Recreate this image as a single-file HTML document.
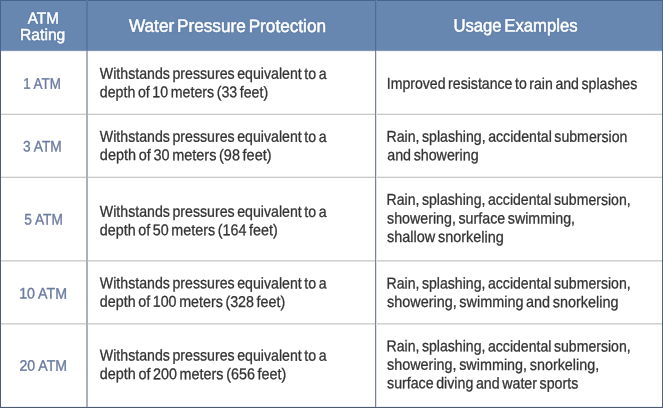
<!DOCTYPE html>
<html lang="en"><head><meta charset="utf-8"><title>ATM Rating</title>
<style>
html,body{margin:0;padding:0;background:#fff;}
body{width:663px;height:408px;overflow:hidden;position:relative;font-family:"Liberation Sans",sans-serif;}
#wrap{position:absolute;left:0;top:0;width:663px;height:408px;overflow:hidden;background:#fff;}
table{position:absolute;left:0;top:0;width:663px;height:408px;border-collapse:collapse;table-layout:fixed;border-spacing:0;}
th,td{padding:0;margin:0;border:0;font-weight:400;}
thead tr{height:50px;}
th{background:#6787b1;}
.t{position:absolute;white-space:pre;line-height:20px;transform-origin:0 0;display:block;}
.h1{font-size:15.9px;font-weight:400;color:#ffffff;-webkit-text-stroke:0.5px #ffffff;}
.h2{font-size:17.9px;font-weight:400;color:#ffffff;-webkit-text-stroke:0.55px #ffffff;word-spacing:-2.0px;}
.a{font-size:15.3px;font-weight:400;color:#6b7ba1;-webkit-text-stroke:0.35px #6b7ba1;}
.b{font-size:15.7px;font-weight:400;color:#333333;-webkit-text-stroke:0.28px #333333;word-spacing:-1.5px;}
.h1,.h2{text-shadow:0 0 2px rgba(50,78,125,0.5);}
.ln{position:absolute;display:block;}
</style></head>
<body><div id="wrap">
<table><colgroup><col style="width:87px"><col style="width:289px"><col style="width:287px"></colgroup>
<thead><tr><th><span class="t h1" style="left:27px;top:8px;transform:matrix(0.9581,0.0008,0,1,0.84,0.40)">ATM</span><span class="t h1" style="left:20px;top:25px;transform:matrix(0.9844,0.0008,0,1,0.06,0.00)">Rating</span></th><th><span class="t h2" style="left:128px;top:15px;transform:matrix(0.9608,0.0008,0,1,0.96,0.80)">Water Pressure Protection</span></th><th><span class="t h2" style="left:453px;top:15px;transform:matrix(0.9312,0.0008,0,1,0.42,0.50)">Usage Examples</span></th></tr></thead>
<tbody>
<tr style="height:64px"><td><span class="t a" style="left:23px;top:73px;transform:matrix(0.8749,0.0008,0,1,0.18,0.75)">1 ATM</span></td><td><span class="t b" style="left:99px;top:63px;transform:matrix(0.9027,0.0008,0,1,0.83,0.70)">Withstands pressures equivalent to a</span><span class="t b" style="left:99px;top:82px;transform:matrix(0.9047,0.0008,0,1,0.83,0.25)">depth of 10 meters (33 feet)</span></td><td><span class="t b" style="left:386px;top:73px;transform:matrix(0.8994,0.0008,0,1,0.73,0.75)">Improved resistance to rain and splashes</span></td></tr>
<tr style="height:63px"><td><span class="t a" style="left:23px;top:136px;transform:matrix(0.8985,0.0008,0,1,0.06,0.60)">3 ATM</span></td><td><span class="t b" style="left:99px;top:126px;transform:matrix(0.9027,0.0008,0,1,0.83,0.70)">Withstands pressures equivalent to a</span><span class="t b" style="left:99px;top:145px;transform:matrix(0.9229,0.0008,0,1,0.83,0.10)">depth of 30 meters (98 feet)</span></td><td><span class="t b" style="left:386px;top:126px;transform:matrix(0.9000,0.0008,0,1,0.53,0.70)">Rain, splashing, accidental submersion</span><span class="t b" style="left:387px;top:145px;transform:matrix(0.9092,0.0008,0,1,0.23,0.25)">and showering</span></td></tr>
<tr style="height:84px"><td><span class="t a" style="left:24px;top:209px;transform:matrix(0.8962,0.0008,0,1,0.26,0.40)">5 ATM</span></td><td><span class="t b" style="left:99px;top:201px;transform:matrix(0.9027,0.0008,0,1,0.83,0.70)">Withstands pressures equivalent to a</span><span class="t b" style="left:99px;top:220px;transform:matrix(0.9129,0.0008,0,1,0.83,0.20)">depth of 50 meters (164 feet)</span></td><td><span class="t b" style="left:386px;top:189px;transform:matrix(0.8979,0.0008,0,1,0.53,0.70)">Rain, splashing, accidental submersion,</span><span class="t b" style="left:387px;top:208px;transform:matrix(0.9076,0.0008,0,1,0.03,0.45)">showering, surface swimming,</span><span class="t b" style="left:387px;top:227px;transform:matrix(0.9221,0.0008,0,1,0.03,0.05)">shallow snorkeling</span></td></tr>
<tr style="height:63px"><td><span class="t a" style="left:19px;top:283px;transform:matrix(0.9289,0.0008,0,1,0.13,0.60)">10 ATM</span></td><td><span class="t b" style="left:99px;top:273px;transform:matrix(0.9027,0.0008,0,1,0.83,0.25)">Withstands pressures equivalent to a</span><span class="t b" style="left:99px;top:291px;transform:matrix(0.9106,0.0008,0,1,0.83,0.80)">depth of 100 meters (328 feet)</span></td><td><span class="t b" style="left:386px;top:273px;transform:matrix(0.8979,0.0008,0,1,0.53,0.40)">Rain, splashing, accidental submersion,</span><span class="t b" style="left:387px;top:292px;transform:matrix(0.9188,0.0008,0,1,0.03,0.00)">showering, swimming and snorkeling</span></td></tr>
<tr style="height:84px"><td><span class="t a" style="left:19px;top:355px;transform:matrix(0.9226,0.0008,0,1,0.46,0.75)">20 ATM</span></td><td><span class="t b" style="left:99px;top:345px;transform:matrix(0.9027,0.0008,0,1,0.83,0.50)">Withstands pressures equivalent to a</span><span class="t b" style="left:99px;top:364px;transform:matrix(0.9160,0.0008,0,1,0.83,0.10)">depth of 200 meters (656 feet)</span></td><td><span class="t b" style="left:386px;top:336px;transform:matrix(0.8979,0.0008,0,1,0.53,0.30)">Rain, splashing, accidental submersion,</span><span class="t b" style="left:387px;top:354px;transform:matrix(0.9165,0.0008,0,1,0.03,0.80)">showering, swimming, snorkeling,</span><span class="t b" style="left:387px;top:373px;transform:matrix(0.9057,0.0008,0,1,0.03,0.30)">surface diving and water sports</span></td></tr>
</tbody></table>
<i class="ln" style="left:0px;top:406px;width:663px;height:1px;background:#eef1f5"></i><i class="ln" style="left:0px;top:50px;width:663px;height:1px;background:#8198b2"></i><i class="ln" style="left:0px;top:51px;width:663px;height:1px;background:#f0f4f7"></i><i class="ln" style="left:0px;top:0px;width:663px;height:1px;background:#48658f"></i><i class="ln" style="left:0px;top:0px;width:1px;height:51px;background:#46648f"></i><i class="ln" style="left:0px;top:51px;width:1px;height:357px;background:#4f5c73"></i><i class="ln" style="left:662px;top:0px;width:1px;height:51px;background:#486794"></i><i class="ln" style="left:662px;top:51px;width:1px;height:357px;background:#506181"></i><i class="ln" style="left:1px;top:113px;width:661px;height:1px;background:#eeeeee"></i><i class="ln" style="left:1px;top:114px;width:661px;height:1px;background:#c9c9c9"></i><i class="ln" style="left:1px;top:176px;width:661px;height:1px;background:#eeeeee"></i><i class="ln" style="left:1px;top:177px;width:661px;height:1px;background:#c9c9c9"></i><i class="ln" style="left:1px;top:260px;width:661px;height:1px;background:#d2d2d2"></i><i class="ln" style="left:1px;top:261px;width:661px;height:1px;background:#e4e4e4"></i><i class="ln" style="left:1px;top:323px;width:661px;height:1px;background:#d2d2d2"></i><i class="ln" style="left:1px;top:324px;width:661px;height:1px;background:#e4e4e4"></i><i class="ln" style="left:86px;top:0px;width:2px;height:50px;background:#5676a4"></i><i class="ln" style="left:86px;top:50px;width:2px;height:1px;background:#6e86a8"></i><i class="ln" style="left:86px;top:51px;width:2px;height:357px;background:#aab0be"></i><i class="ln" style="left:375px;top:0px;width:1px;height:50px;background:#4e6c9b"></i><i class="ln" style="left:376px;top:0px;width:1px;height:50px;background:#6181ad"></i><i class="ln" style="left:375px;top:50px;width:1px;height:1px;background:#5f7697"></i><i class="ln" style="left:375px;top:51px;width:1px;height:357px;background:#7d828b"></i><i class="ln" style="left:376px;top:51px;width:1px;height:357px;background:#dde1e8"></i><i class="ln" style="left:0px;top:407px;width:663px;height:1px;background:#4c5a72"></i>
</div></body></html>
